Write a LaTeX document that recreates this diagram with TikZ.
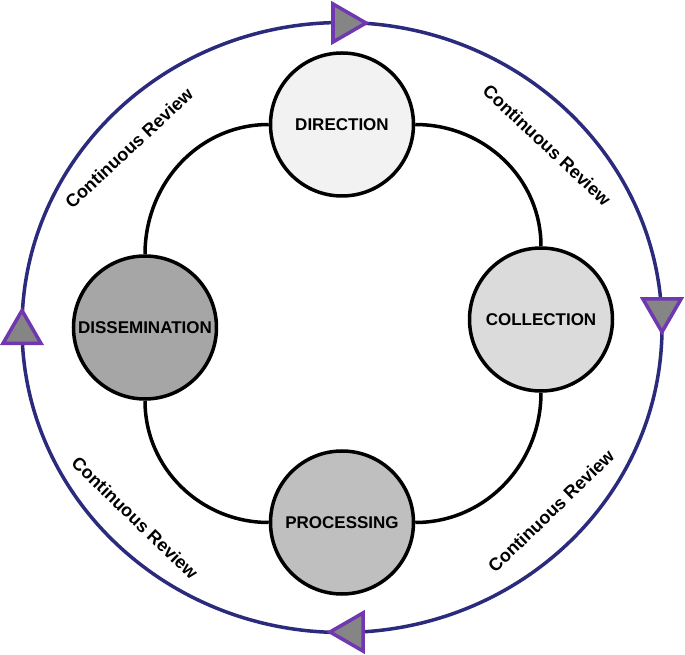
\documentclass[tikz,border=0pt]{standalone}
\usepackage{fontspec}
\setmainfont{Liberation Sans}
\usepackage{xcolor}
\usetikzlibrary{shapes.geometric}

\definecolor{ringblue}{HTML}{2B2A7C}
\definecolor{tipline}{HTML}{7038B0}
\definecolor{tipgray}{HTML}{858585}

\begin{document}
\begin{tikzpicture}[x=1pt, y=1pt,
      font=\fontsize{17}{20}\selectfont\bfseries,
      stage/.style={circle, draw, line width=3.5pt, minimum size=143pt,
                    inner sep=0pt},
      link/.style={line width=3.5pt},
      ring/.style={draw=ringblue, line width=3.5pt},
      marker/.style={regular polygon, regular polygon sides=3,
                     draw=tipline, fill=tipgray, line width=3.5pt,
                     minimum size=44pt, inner sep=0pt},
      review/.style={inner sep=0pt, font=\fontsize{18}{20}\selectfont\bfseries}]

    \useasboundingbox (-342,-327.5) rectangle (343,327.5);

    % outer review ring
    \draw[ring] (0,0) ellipse [x radius=320pt, y radius=305pt];

    \node[marker, rotate=-90] (tipN) at (2,304.5) {};
    \node[marker, rotate=180] (tipE) at (320,17.5) {};
    \node[marker, rotate=90] (tipS) at (10,-304.5) {};
    \node[marker] (tipW) at (-320,-5) {};

    \node[review, rotate=43] (revNW) at (-213,179.5) {Continuous Review};
    \node[review, rotate=-43] (revNE) at (205,182.5) {Continuous Review};
    \node[review, rotate=44] (revSE) at (209,-183.5) {Continuous Review};
    \node[review, rotate=-44] (revSW) at (-207,-190.5) {Continuous Review};

    % cycle stages
    \node[stage, fill=black!5] (dir) at (0,203) {DIRECTION};
    \node[stage, fill=black!14] (col) at (199,8) {COLLECTION};
    \node[stage, fill=black!25] (proc) at (0,-195) {PROCESSING};
    \node[stage, fill=black!35] (dis) at (-197,0) {DISSEMINATION};

    \draw[link] (dir.east) to[out=0, in=90] (col.north);
    \draw[link] (col.south) to[out=-90, in=0] (proc.east);
    \draw[link] (proc.west) to[out=180, in=-90] (dis.south);
    \draw[link] (dis.north) to[out=90, in=180] (dir.west);
  \end{tikzpicture}
\end{document}
